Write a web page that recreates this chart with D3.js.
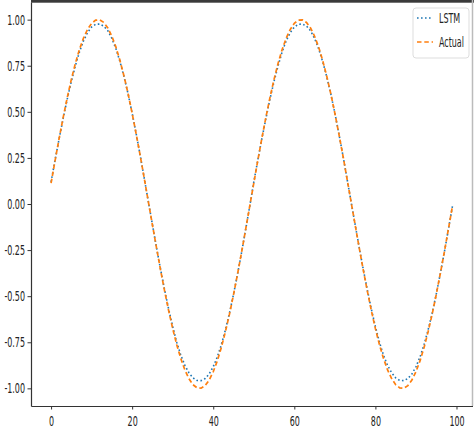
<!DOCTYPE html>
<meta charset="utf-8">
<script src="https://d3js.org/d3.v7.min.js"></script>
<style>
body { margin: 0; background: #fff; }
text { font-family: "DejaVu Sans", sans-serif; font-size: 14px; fill: #222; }
</style>
<body>
<script>

// values, one per step 0..99
var actual = [
  0.113, 0.237, 0.357, 0.471, 0.578, 0.676, 0.763, 0.838, 0.900, 0.947,
  0.980, 0.997, 0.999, 0.985, 0.955, 0.910, 0.851, 0.778, 0.693, 0.598,
  0.492, 0.379, 0.261, 0.137, 0.012, -0.113, -0.237, -0.357, -0.471, -0.578,
  -0.676, -0.763, -0.838, -0.900, -0.947, -0.980, -0.997, -0.999, -0.985, -0.955,
  -0.910, -0.851, -0.778, -0.693, -0.598, -0.492, -0.379, -0.261, -0.137, -0.012,
  0.113, 0.237, 0.357, 0.471, 0.578, 0.676, 0.763, 0.838, 0.900, 0.947,
  0.980, 0.997, 0.999, 0.985, 0.955, 0.910, 0.851, 0.778, 0.693, 0.598,
  0.492, 0.379, 0.261, 0.137, 0.012, -0.113, -0.237, -0.357, -0.471, -0.578,
  -0.676, -0.763, -0.838, -0.900, -0.947, -0.980, -0.997, -0.999, -0.985, -0.955,
  -0.910, -0.851, -0.778, -0.693, -0.598, -0.492, -0.379, -0.261, -0.137, -0.012
];
var lstm = [
  0.120, 0.240, 0.355, 0.465, 0.570, 0.665, 0.750, 0.825, 0.885, 0.930,
  0.960, 0.975, 0.976, 0.965, 0.940, 0.898, 0.842, 0.772, 0.690, 0.597,
  0.493, 0.380, 0.262, 0.138, 0.012, -0.112, -0.235, -0.353, -0.465, -0.570,
  -0.665, -0.750, -0.820, -0.875, -0.915, -0.943, -0.957, -0.958, -0.947, -0.922,
  -0.883, -0.830, -0.763, -0.683, -0.592, -0.490, -0.379, -0.262, -0.138, -0.013,
  0.118, 0.239, 0.355, 0.465, 0.570, 0.665, 0.750, 0.825, 0.885, 0.930,
  0.960, 0.975, 0.976, 0.965, 0.940, 0.898, 0.842, 0.772, 0.690, 0.597,
  0.493, 0.380, 0.262, 0.138, 0.012, -0.112, -0.235, -0.353, -0.465, -0.570,
  -0.665, -0.750, -0.820, -0.875, -0.915, -0.943, -0.957, -0.958, -0.947, -0.922,
  -0.883, -0.830, -0.763, -0.683, -0.592, -0.490, -0.379, -0.262, -0.138, -0.013
];
var xTicks = [0, 20, 40, 60, 80, 100];
var yTicks = [-1, -0.75, -0.5, -0.25, 0, 0.25, 0.5, 0.75, 1];
var seriesNames = ["LSTM", "Actual"];

var W = 474, H = 430;
var plotL = 31, plotR = 472.5, plotT = 2, plotB = 406;
var squeeze = 0.57;   // the source text is very narrow

var x = d3.scaleLinear().domain([-4.95, 103.95]).range([plotL, plotR]);
var y = d3.scaleLinear().domain([-1.0957, 1.0957]).range([plotB, plotT]);

var svg = d3.select("body").append("svg")
    .attr("width", W)
    .attr("height", H);

var line = d3.line()
    .x(function(d, i) { return x(i); })
    .y(function(d) { return y(d); });

// LSTM dotted under the actual dashed line
svg.append("path")
    .datum(lstm)
    .attr("d", line)
    .attr("fill", "none")
    .attr("stroke", "#1f77b4")
    .attr("stroke-width", 1.6)
    .attr("stroke-dasharray", "1.6,2.4");

svg.append("path")
    .datum(actual)
    .attr("d", line)
    .attr("fill", "none")
    .attr("stroke", "#ff7f0e")
    .attr("stroke-width", 1.7)
    .attr("stroke-dasharray", "4.5,2.8");

// spines
svg.append("rect").attr("x", plotL).attr("y", 0).attr("width", W - plotL).attr("height", 2.7).attr("fill", "#3a3a3a");
svg.append("line").attr("x1", plotR).attr("x2", plotR).attr("y1", 0).attr("y2", plotB)
    .attr("stroke", "#bbb").attr("stroke-width", 1.5);

// axes
var yAxis = svg.append("g")
    .attr("transform", "translate(" + plotL + ",0)")
    .call(d3.axisLeft(y).tickValues(yTicks).tickSize(3.5).tickSizeOuter(0).tickPadding(2.5)
        .tickFormat(function(d) { return d.toFixed(2); }));
var xAxis = svg.append("g")
    .attr("transform", "translate(0," + plotB + ")")
    .call(d3.axisBottom(x).tickValues(xTicks).tickSize(3.5).tickSizeOuter(0).tickPadding(3)
        .tickFormat(function(d) { return d; }));

[yAxis, xAxis].forEach(function(g) {
  g.select(".domain").attr("stroke", "#333").attr("stroke-width", 1.2);
  g.selectAll(".tick line").attr("stroke", "#333").attr("stroke-width", 1);
  g.selectAll(".tick text")
      .attr("font-family", null).attr("font-size", null)
      .style("fill", "#222");
});
// squeeze labels horizontally
yAxis.selectAll(".tick text")
    .attr("x", -6 / squeeze)
    .attr("transform", "scale(" + squeeze + ",1)");
xAxis.selectAll(".tick text")
    .attr("dy", "0.95em")
    .attr("transform", "scale(" + squeeze + ",1)");

// legend
var lg = svg.append("g");
lg.append("rect")
    .attr("x", 413).attr("y", 8).attr("width", 56).attr("height", 50)
    .attr("rx", 3).attr("fill", "#fff").attr("stroke", "#ddd");
var items = lg.selectAll(".item").data(seriesNames).enter().append("g")
    .attr("class", "item")
    .attr("transform", function(d, i) { return "translate(417," + (18 + i * 24) + ")"; });
items.append("line")
    .attr("x1", 0).attr("x2", 16)
    .attr("stroke", function(d, i) { return i == 0 ? "#1f77b4" : "#ff7f0e"; })
    .attr("stroke-width", 1.7)
    .attr("stroke-dasharray", function(d, i) { return i == 0 ? "1.6,2.4" : "4.5,2.8"; });
items.append("text")
    .attr("transform", "translate(22,5) scale(" + squeeze + ",1)")
    .text(String);

</script>
</body>
